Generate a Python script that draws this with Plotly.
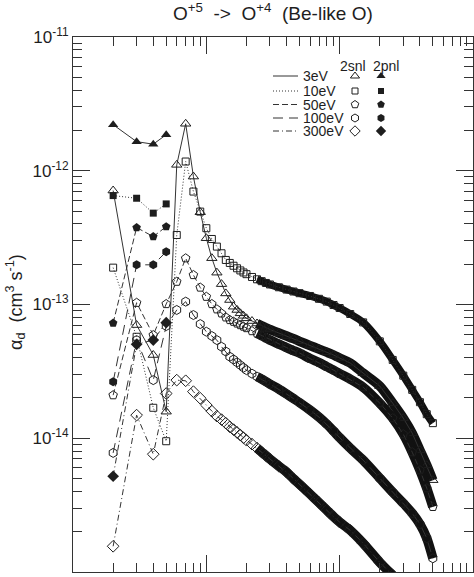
import plotly.graph_objects as go

# ---------------- data ----------------
temps = ["3eV", "10eV", "50eV", "100eV", "300eV"]

# 2pnl (filled markers), n = 2..5
n_p = [2, 3, 4, 5]
p_3 = [2.21e-12, 1.65e-12, 1.58e-12, 1.86e-12]
p_10 = [6.52e-13, 6.23e-13, 4.82e-13, 5.65e-13]
p_50 = [7.27e-14, 3.76e-13, 3.22e-13, 3.82e-13]
p_100 = [2.64e-14, 1.98e-13, 1.98e-13, 2.48e-13]
p_300 = [5.20e-15, 5.04e-14, 5.42e-14, 7.31e-14]

# 2snl (open markers), principal quantum number n
n_s = [2, 3, 4, 5, 6, 7, 8, 9, 10, 11, 12, 13, 14, 15, 16, 17, 18, 19, 20,
       22, 24, 26, 28, 30, 35, 40, 45, 50, 60, 70, 80, 90, 100,
       120, 150, 200, 250, 300, 350, 400, 450, 500]

s_3 = [7.11e-13, 7.02e-14, 4.19e-14, 1.58e-14, 1.107e-12, 2.245e-12, 9.05e-13, 4.90e-13,
       3.13e-13, 2.22e-13, 1.73e-13, 1.42e-13, 1.21e-13, 1.08e-13, 9.63e-14, 9.10e-14,
       8.59e-14, 8.23e-14, 7.88e-14, 7.52e-14, 7.21e-14, 6.94e-14, 6.69e-14, 6.50e-14,
       6.12e-14, 5.81e-14, 5.55e-14, 5.31e-14, 4.93e-14, 4.64e-14, 4.40e-14, 4.19e-14,
       3.98e-14, 3.65e-14, 3.07e-14, 2.455e-14, 1.83e-14, 1.414e-14, 1.092e-14, 8.15e-15,
       6.29e-15, 4.86e-15]

s_10 = [1.886e-13, 5.74e-14, 1.69e-14, 9.5e-15, 3.31e-13, 1.172e-12, 6.99e-13, 4.95e-13,
        3.72e-13, 3.09e-13, 2.71e-13, 2.415e-13, 2.153e-13, 2.045e-13, 1.949e-13, 1.866e-13,
        1.797e-13, 1.736e-13, 1.686e-13, 1.606e-13, 1.543e-13, 1.494e-13, 1.449e-13, 1.412e-13,
        1.345e-13, 1.293e-13, 1.251e-13, 1.215e-13, 1.158e-13, 1.103e-13, 1.051e-13, 9.91e-14,
        9.41e-14, 8.49e-14, 7.35e-14, 5.30e-14, 3.85e-14, 2.94e-14, 2.30e-14, 1.86e-14,
        1.513e-14, 1.297e-14]

s_50 = [2.10e-14, 1.031e-13, 5.91e-14, 1.009e-13, 1.482e-13, 2.217e-13, 1.663e-13, 1.34e-13,
        1.144e-13, 1.009e-13, 9.21e-14, 8.59e-14, 8.02e-14, 7.66e-14, 7.44e-14, 7.22e-14,
        7.02e-14, 6.84e-14, 6.67e-14, 6.33e-14, 6.07e-14, 5.84e-14, 5.62e-14, 5.42e-14,
        5.06e-14, 4.76e-14, 4.52e-14, 4.34e-14, 3.94e-14, 3.68e-14, 3.43e-14, 3.23e-14,
        3.04e-14, 2.77e-14, 2.41e-14, 1.83e-14, 1.414e-14, 1.073e-14, 7.87e-15, 5.77e-15,
        4.23e-15, 3.07e-15]

s_100 = [7.77e-15, 5.42e-14, 2.72e-14, 6.9e-14, 9.10e-14, 1.05e-13, 8.34e-14, 7.14e-14,
         6.26e-14, 5.81e-14, 5.42e-14, 4.83e-14, 4.45e-14, 4.07e-14, 3.88e-14, 3.69e-14,
         3.52e-14, 3.37e-14, 3.23e-14, 3.04e-14, 2.89e-14, 2.77e-14, 2.65e-14, 2.54e-14,
         2.33e-14, 2.14e-14, 1.98e-14, 1.847e-14, 1.623e-14, 1.438e-14, 1.274e-14, 1.13e-14,
         1.01e-14, 8.43e-15, 6.86e-15, 5.03e-15, 3.95e-15, 3.27e-15, 2.75e-15, 2.28e-15,
         1.79e-15, 1.266e-15]

s_300 = [1.557e-15, 1.489e-14, 7.60e-15, 2.16e-14, 2.72e-14, 2.69e-14, 2.23e-14, 1.99e-14,
         1.77e-14, 1.595e-14, 1.463e-14, 1.378e-14, 1.297e-14, 1.217e-14, 1.16e-14, 1.105e-14,
         1.055e-14, 1.008e-14, 9.67e-15, 9.03e-15, 8.43e-15, 7.87e-15, 7.41e-15, 6.98e-15,
         6.18e-15, 5.58e-15, 4.98e-15, 4.53e-15, 3.82e-15, 3.30e-15, 2.90e-15, 2.59e-15,
         2.36e-15, 2.05e-15, 1.64e-15, 1.18e-15, 9.45e-16, 7.95e-16]

x_ticks = [1, 10, 100, 1000]
y_ticks = [1e-15, 1e-14, 1e-13, 1e-12, 1e-11]
y_ticktext = ["10<sup>-15</sup>", "10<sup>-14</sup>", "10<sup>-13</sup>", "10<sup>-12</sup>", "10<sup>-11</sup>"]

# ---------------- styles ----------------
INK = "#1e1e1e"
LINE = "#333333"
dashes = ["solid", "1px,2px", "6px,3px", "10px,6px", "6px,3px,1px,3px"]
open_sym = ["triangle-up-open", "square-open", "pentagon-open", "hexagon-open", "diamond-open"]
fill_sym = ["triangle-up", "square", "pentagon", "hexagon", "diamond"]
msize = [9, 7, 9, 9, 9]

series_p = [p_3, p_10, p_50, p_100, p_300]
series_s = [s_3, s_10, s_50, s_100, s_300]

fig = go.Figure()
BAND_N = 24
for i in range(5):
    vs = series_s[i]
    ns = n_s[:len(vs)]
    bn = [a for a in ns if a >= BAND_N]
    bv = [b for a, b in zip(ns, vs) if a >= BAND_N]
    # thick band: markers overlap into a solid trail at high n
    fig.add_trace(go.Scatter(x=bn, y=bv, mode="lines",
                             line=dict(color="#111111", width=msize[i] + 0.5,
                                       shape="spline", smoothing=0.8),
                             hoverinfo="skip"))
    fig.add_trace(go.Scatter(x=ns, y=vs, mode="lines+markers",
                             line=dict(color=LINE, width=1, dash=dashes[i]),
                             marker=dict(symbol=open_sym[i], size=msize[i], color=INK,
                                         line=dict(color=INK, width=1))))
    fig.add_trace(go.Scatter(x=n_p, y=series_p[i], mode="lines+markers",
                             line=dict(color=LINE, width=1, dash=dashes[i]),
                             marker=dict(symbol=fill_sym[i], size=msize[i], color=INK,
                                         line=dict(color=INK, width=0))))

# ---------------- legend (pixel frame overlay) ----------------
leg_rows = [76, 91, 104.5, 118, 131]
for i in range(5):
    y = leg_rows[i]
    fig.add_trace(go.Scatter(x=[273, 298], y=[y, y], xaxis="x2", yaxis="y2", mode="lines",
                             line=dict(color=LINE, width=1, dash=dashes[i]), hoverinfo="skip"))
    fig.add_trace(go.Scatter(x=[355], y=[y], xaxis="x2", yaxis="y2", mode="markers",
                             marker=dict(symbol=open_sym[i], size=msize[i] - 1, color=INK,
                                         line=dict(color=INK, width=1)), hoverinfo="skip"))
    fig.add_trace(go.Scatter(x=[381], y=[y], xaxis="x2", yaxis="y2", mode="markers",
                             marker=dict(symbol=fill_sym[i], size=msize[i] - 1, color=INK,
                                         line=dict(width=0)), hoverinfo="skip"))

annotations = []
for i in range(5):
    annotations.append(dict(x=301, y=leg_rows[i], xref="x2", yref="y2", text=temps[i],
                            showarrow=False, xanchor="left", yanchor="middle",
                            font=dict(size=14, color=INK)))
annotations.append(dict(x=353, y=66, xref="x2", yref="y2", text="2snl", showarrow=False,
                        xanchor="center", yanchor="middle", font=dict(size=14, color=INK)))
annotations.append(dict(x=386, y=66, xref="x2", yref="y2", text="2pnl", showarrow=False,
                        xanchor="center", yanchor="middle", font=dict(size=14, color=INK)))
# title
annotations.append(dict(x=0.5, y=(572 - 12) / 535, xref="paper", yref="paper",
                        text="O<sup>+5</sup>&nbsp;&nbsp;->&nbsp;&nbsp;O<sup>+4</sup>&nbsp;&nbsp;(Be-like O)",
                        showarrow=False, xanchor="center", yanchor="middle",
                        font=dict(size=19, color=INK)))
# y title
annotations.append(dict(x=(15 - 73) / 400, y=(572 - 302) / 535, xref="paper", yref="paper",
                        text="α<sub>d</sub>&nbsp;&nbsp;(cm<sup>3</sup> s<sup>-1</sup>)", showarrow=False,
                        textangle=-90, xanchor="center", yanchor="middle",
                        font=dict(size=18, color=INK)))

minor_x = [m * d for d in (1, 10, 100) for m in range(2, 10)]
minor_y = [m * d for d in (1e-15, 1e-14, 1e-13, 1e-12) for m in range(2, 10)]

fig.update_layout(
    width=474, height=577,
    margin=dict(l=73, r=1, t=37, b=5, autoexpand=False),
    plot_bgcolor="white", paper_bgcolor="white",
    showlegend=False,
    font=dict(family="Liberation Sans, Arial, sans-serif", color=INK),
    annotations=annotations,
    xaxis=dict(type="log", range=[0, 3], showline=True, linecolor=LINE, linewidth=1,
               mirror="ticks", ticks="inside", ticklen=17, tickwidth=1, tickcolor=LINE,
               tickmode="array", tickvals=x_ticks, showticklabels=False, automargin=False,
               showgrid=False, zeroline=False,
               minor=dict(ticks="inside", ticklen=9, tickwidth=1, tickcolor=LINE,
                          tickmode="array", tickvals=minor_x, showgrid=False)),
    yaxis=dict(type="log", range=[-15, -11], showline=True, linecolor=LINE, linewidth=1,
               mirror="ticks", ticks="inside", ticklen=17, tickwidth=1, tickcolor=LINE,
               tickmode="array", tickvals=y_ticks, ticktext=y_ticktext, automargin=False,
               tickfont=dict(size=17, color=INK),
               showgrid=False, zeroline=False,
               minor=dict(ticks="inside", ticklen=9, tickwidth=1, tickcolor=LINE,
                          tickmode="array", tickvals=minor_y, showgrid=False)),
    xaxis2=dict(range=[73, 473], overlaying="x", visible=False, fixedrange=True, automargin=False),
    yaxis2=dict(range=[572, 37], overlaying="y", visible=False, fixedrange=True, automargin=False),
)

fig.write_html("out.html", config={"displayModeBar": False},
               post_script="document.body.style.margin='0px';")
